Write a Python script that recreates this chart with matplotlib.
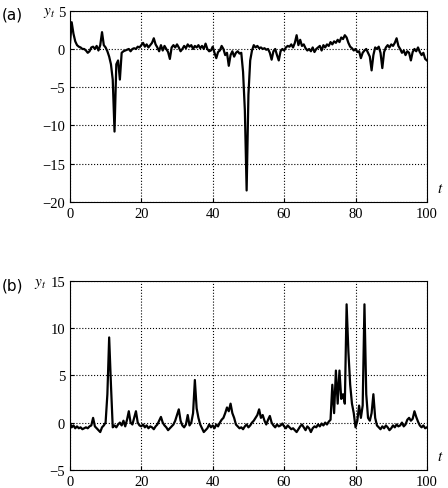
import numpy as np
import matplotlib
matplotlib.use("Agg")
import matplotlib.pyplot as plt

plt.rcParams['mathtext.fontset'] = 'stix'

ya = [0.5,3.5,2,1,0.5,0.3,0.2,0,0,-0.2,-0.5,-0.3,0.2,0.3,0,0.4,-0.2,0.5,2.2,0.5,
      0.2,-0.3,-1,-2,-4,-10.8,-2,-1.5,-4,-0.5,-0.3,-0.2,-0.1,0,-0.3,0,0.1,0,0.3,0.2,
      0.5,0.8,0.3,0.6,0.2,0.5,0.8,1.4,0.6,0.2,-0.3,0.5,-0.2,0.4,0,-0.4,-1.3,0.2,0.5,0.2,
      0.6,0.2,-0.3,0,0.4,0.1,0.6,0.3,0.5,0,0.4,0.2,0.5,0.1,0.4,0,0.7,0,-0.3,-0.2,
      0.3,-0.5,-1.2,-0.4,-0.2,0.4,0,-0.8,-0.5,-2.2,-0.8,-0.3,-1,-0.5,-0.3,-0.6,-0.5,-3,-8,-18.5,
      -6,-1.5,-0.2,0.5,0.2,0.4,0.1,0.2,0,0.1,-0.1,0,-0.5,-1.4,-0.3,0,-0.8,-1.5,-0.3,0,
      -0.2,0.2,0.4,0.3,0.6,0.2,0.8,1.8,0.5,1.2,0.4,0.6,0.1,-0.2,0,-0.3,0.2,-0.4,0,0.2,
      0.4,-0.2,0.5,0.2,0.6,0.4,0.9,0.6,1,0.8,1.2,0.9,1.5,1.3,1.8,1.5,0.8,0.3,0.1,-0.2,
      0,-0.4,-0.3,-1.2,-0.5,-0.2,0,-0.5,-1,-2.8,-0.8,0.2,0,0.3,-0.5,-2.5,-0.4,0.2,0.5,0.2,
      0.6,0.4,0.8,1.4,0.4,0,-0.5,-0.2,-0.8,-0.3,-0.5,-1.5,-0.4,0,-0.3,0.2,-0.4,-0.8,-0.5,-1.3,
      -1.5]
yb = [0,-0.5,-0.3,-0.6,-0.4,-0.6,-0.5,-0.7,-0.6,-0.5,-0.6,-0.4,-0.3,0.5,-0.4,-0.6,-0.8,-1,-0.5,-0.3,
      0,3,9,4,-0.5,-0.3,-0.5,-0.2,0,-0.3,0.2,-0.4,0.3,1.2,0,-0.2,0.5,1.2,0,-0.3,
      -0.4,-0.2,-0.5,-0.3,-0.6,-0.4,-0.5,-0.7,-0.4,-0.2,0.2,0.6,0,-0.3,-0.5,-0.8,-0.6,-0.4,-0.2,0.2,
      0.8,1.4,0.2,-0.3,-0.5,-0.2,0.8,-0.3,0,1,4.5,1.5,0.5,-0.2,-0.6,-1,-0.8,-0.6,-0.2,-0.5,
      -0.3,-0.6,-0.2,-0.4,0,0.3,0.5,1,1.6,1.2,2,1,0.5,-0.2,-0.4,-0.6,-0.5,-0.7,-0.4,-0.2,
      -0.5,-0.3,0,0.2,0.5,0.8,1.4,0.5,0.8,0.2,-0.2,0.3,0.7,0,-0.3,-0.5,-0.2,-0.4,-0.3,-0.1,
      -0.4,-0.6,-0.3,-0.5,-0.7,-0.6,-0.8,-1,-0.7,-0.4,-0.2,-0.5,-0.8,-0.4,-0.6,-1,-0.6,-0.4,-0.5,-0.2,
      -0.4,-0.1,-0.3,0,-0.2,0.1,0.3,4,1,5.5,2,5.5,2.5,3,2,12.5,7.5,4,2,1,
      -0.5,0.2,1.8,0.5,1.8,12.5,3,0.5,0.2,1,3,0.5,-0.3,-0.5,-0.7,-0.4,-0.6,-0.3,-0.5,-0.8,
      -0.6,-0.3,-0.5,-0.2,-0.4,-0.3,0,-0.4,-0.2,0.3,0.5,0.2,0.4,1.2,0.6,0.1,-0.3,-0.5,-0.3,-0.6,
      -0.5]
ta = np.linspace(0, 100, len(ya))
tb = np.linspace(0, 100, len(yb))

fig = plt.figure(figsize=(4.48, 4.89), dpi=100)
axa = fig.add_axes([0.156, 0.585, 0.797, 0.391])
axb = fig.add_axes([0.156, 0.037, 0.797, 0.387])

def style(ax, ylim, yt):
    ax.set_xlim(0, 100)
    ax.set_ylim(*ylim)
    ax.set_xticks([0, 20, 40, 60, 80, 100])
    ax.set_yticks(yt)
    ax.set_yticklabels([str(v).replace('-', '\u2212') for v in yt])
    ax.grid(True, linestyle=':', color='black', linewidth=0.8)
    ax.tick_params(direction='in', labelsize=10.5, length=3)
    for lab in ax.get_xticklabels() + ax.get_yticklabels():
        lab.set_family('Liberation Serif')

axa.plot(ta, ya, color='black', linewidth=1.6)
style(axa, (-20, 5), [-20, -15, -10, -5, 0, 5])
axb.plot(tb, yb, color='black', linewidth=1.6)
style(axb, (-5, 15), [-5, 0, 5, 10, 15])

fig.text(0.005, 0.985, '(a)', fontsize=11, va='top', ha='left')
fig.text(0.095, 0.99, '$y_t$', fontsize=11, va='top')
fig.text(0.975, 0.60, '$t$', fontsize=11, va='bottom')
fig.text(0.005, 0.43, '(b)', fontsize=11, va='top', ha='left')
fig.text(0.075, 0.435, '$y_t$', fontsize=11, va='top')
fig.text(0.975, 0.052, '$t$', fontsize=11, va='bottom')

fig.savefig('out.png', dpi=100)
